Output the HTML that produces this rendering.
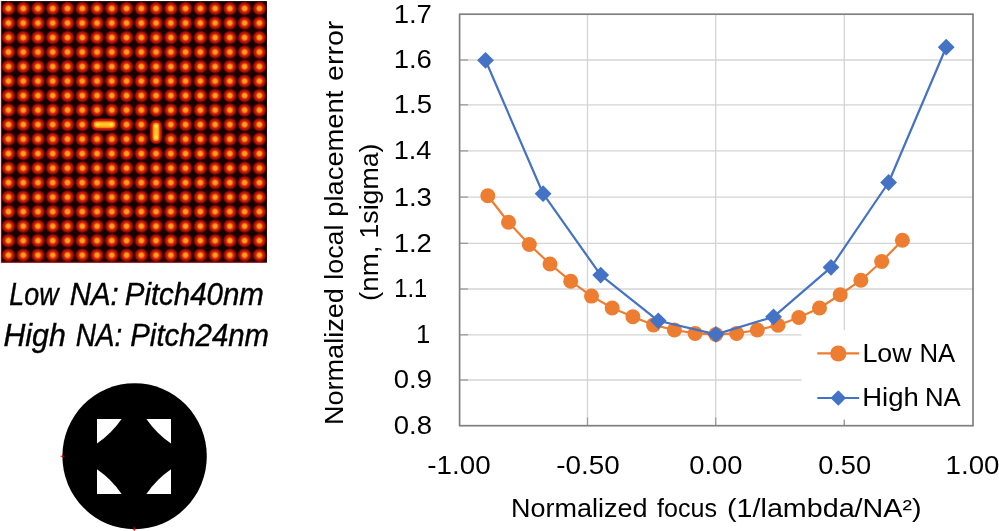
<!DOCTYPE html>
<html lang="en"><head><meta charset="utf-8"><title>Normalized local placement error vs focus</title>
<style>
html,body{margin:0;padding:0;background:#fff;}
body{width:999px;height:531px;overflow:hidden;}
svg{display:block;}
text{font-family:"Liberation Sans", Arial, sans-serif;fill:#000;}
.ax{font-size:25.6px;}
.it{font-style:italic;font-size:32px;stroke:#000;stroke-width:0.4px;}
</style></head><body>
<svg width="999" height="531" viewBox="0 0 999 531">
<defs>
<radialGradient id="dot" cx="50%" cy="50%" r="50%">
<stop offset="0" stop-color="#ffa81e"/>
<stop offset="0.24" stop-color="#ff9c1a"/>
<stop offset="0.35" stop-color="#f8780f"/>
<stop offset="0.45" stop-color="#d8300c"/>
<stop offset="0.54" stop-color="#c81c0a"/>
<stop offset="0.72" stop-color="#ae1208"/>
<stop offset="0.84" stop-color="#6a0603"/>
<stop offset="0.94" stop-color="#4a0302" stop-opacity="0.85"/>
<stop offset="1" stop-color="#200000" stop-opacity="0"/>
</radialGradient>
<pattern id="cell" x="1.10" y="1.25" width="14.76" height="14.51" patternUnits="userSpaceOnUse">
<rect width="14.76" height="14.51" fill="#160000"/>
<ellipse cx="7.38" cy="7.25" rx="7.45" ry="7.35" fill="url(#dot)"/>
</pattern>
<filter id="soft" filterUnits="userSpaceOnUse" x="0" y="0" width="280" height="280"><feGaussianBlur stdDeviation="0.65"/></filter>
</defs>
<g id="heatmap">
<rect x="1.10" y="1.25" width="265.68" height="261.18" fill="#160000"/>
<rect x="1.10" y="1.25" width="265.68" height="261.18" fill="url(#cell)"/>
<rect x="89.66" y="117.33" width="29.52" height="14.51" fill="#160000"/>
<g filter="url(#soft)" stroke-linecap="round" fill="none">
<line x1="97.04" y1="124.58" x2="111.80" y2="124.58" stroke="#5a0402" stroke-width="13.0"/>
<line x1="97.04" y1="124.58" x2="111.80" y2="124.58" stroke="#a80e07" stroke-width="11.8"/>
<line x1="97.04" y1="124.58" x2="111.80" y2="124.58" stroke="#c41809" stroke-width="10.4"/>
<line x1="97.04" y1="124.58" x2="111.80" y2="124.58" stroke="#dc300c" stroke-width="8.2"/>
<line x1="97.04" y1="124.58" x2="111.80" y2="124.58" stroke="#f8780f" stroke-width="6.6"/>
<line x1="97.04" y1="124.58" x2="111.80" y2="124.58" stroke="#ffa41c" stroke-width="5.2"/>
<line x1="97.04" y1="124.58" x2="111.80" y2="124.58" stroke="#ffc826" stroke-width="3.4"/>
<circle cx="97.64" cy="124.58" r="1.9" fill="#ffe030"/><circle cx="111.20" cy="124.58" r="1.9" fill="#ffe030"/>
</g>
<rect x="148.70" y="117.33" width="14.76" height="29.02" fill="#160000"/>
<g filter="url(#soft)" stroke-linecap="round" fill="none">
<line x1="156.08" y1="126.00" x2="156.08" y2="137.80" stroke="#5a0402" stroke-width="13.0"/>
<line x1="156.08" y1="126.00" x2="156.08" y2="137.80" stroke="#a80e07" stroke-width="11.8"/>
<line x1="156.08" y1="126.00" x2="156.08" y2="137.80" stroke="#c41809" stroke-width="10.4"/>
<line x1="156.08" y1="126.00" x2="156.08" y2="137.80" stroke="#dc300c" stroke-width="8.2"/>
<line x1="156.08" y1="126.00" x2="156.08" y2="137.80" stroke="#f8780f" stroke-width="6.6"/>
<line x1="156.08" y1="126.00" x2="156.08" y2="137.80" stroke="#ffa41c" stroke-width="5.2"/>
<line x1="156.08" y1="126.00" x2="156.08" y2="137.80" stroke="#ffc826" stroke-width="3.4"/>
<circle cx="156.08" cy="126.60" r="1.9" fill="#ffe030"/><circle cx="156.08" cy="137.20" r="1.9" fill="#ffe030"/>
</g>
<rect x="0.80" y="1.25" width="1.1" height="261.18" fill="#c01008" opacity="0.8"/>
<rect x="1.10" y="261.63" width="265.68" height="1.1" fill="#c01008" opacity="0.8"/>
</g>
<g id="caption" class="it">
<text x="9.34" y="305.00" textLength="49.20" lengthAdjust="spacingAndGlyphs">Low</text>
<text x="69.72" y="305.00" textLength="49.02" lengthAdjust="spacingAndGlyphs">NA:</text>
<text x="124.75" y="305.00" textLength="139.16" lengthAdjust="spacingAndGlyphs">Pitch40nm</text>
<text x="3.42" y="345.90" textLength="62.37" lengthAdjust="spacingAndGlyphs">High</text>
<text x="75.64" y="345.90" textLength="46.61" lengthAdjust="spacingAndGlyphs">NA:</text>
<text x="130.27" y="345.90" textLength="138.77" lengthAdjust="spacingAndGlyphs">Pitch24nm</text>
</g>
<g id="pupil">
<ellipse cx="134.6" cy="456.2" rx="72.2" ry="73.0" fill="#000"/>
<path d="M97.00 419.00 L121.60 419.00 Q111.54 433.54 97.00 443.60 Z" fill="#fff"/>
<path d="M171.00 419.00 L146.40 419.00 Q156.46 433.54 171.00 443.60 Z" fill="#fff"/>
<path d="M97.00 493.90 L121.60 493.90 Q111.54 479.36 97.00 469.30 Z" fill="#fff"/>
<path d="M171.00 493.90 L146.40 493.90 Q156.46 479.36 171.00 469.30 Z" fill="#fff"/>
<path d="M60.5 456.3H64.5M62.6 454.8V457.8M134.3 527V531M133 529.2H135.6" stroke="#e00000" stroke-width="0.9" fill="none"/>
</g>
<g id="chart">
<g stroke="#d4d4d4" stroke-width="1.3" fill="none">
<line x1="459.60" y1="380.00" x2="973.00" y2="380.00"/>
<line x1="459.60" y1="334.80" x2="973.00" y2="334.80"/>
<line x1="459.60" y1="289.00" x2="973.00" y2="289.00"/>
<line x1="459.60" y1="243.30" x2="973.00" y2="243.30"/>
<line x1="459.60" y1="197.10" x2="973.00" y2="197.10"/>
<line x1="459.60" y1="150.90" x2="973.00" y2="150.90"/>
<line x1="459.60" y1="104.80" x2="973.00" y2="104.80"/>
<line x1="459.60" y1="60.00" x2="973.00" y2="60.00"/>
<line x1="587.50" y1="14.20" x2="587.50" y2="425.70"/>
<line x1="715.70" y1="14.20" x2="715.70" y2="425.70"/>
<line x1="844.30" y1="14.20" x2="844.30" y2="425.70"/>
</g>
<g stroke="#8c8c8c" stroke-width="1.3" opacity="0.8">
<line x1="459.60" y1="380.00" x2="468.10" y2="380.00"/>
<line x1="459.60" y1="334.80" x2="468.10" y2="334.80"/>
<line x1="459.60" y1="289.00" x2="468.10" y2="289.00"/>
<line x1="459.60" y1="243.30" x2="468.10" y2="243.30"/>
<line x1="459.60" y1="197.10" x2="468.10" y2="197.10"/>
<line x1="459.60" y1="150.90" x2="468.10" y2="150.90"/>
<line x1="459.60" y1="104.80" x2="468.10" y2="104.80"/>
<line x1="459.60" y1="60.00" x2="468.10" y2="60.00"/>
<line x1="587.50" y1="417.50" x2="587.50" y2="425.70"/>
<line x1="715.70" y1="417.50" x2="715.70" y2="425.70"/>
<line x1="844.30" y1="417.50" x2="844.30" y2="425.70"/>
</g>
<rect x="801.5" y="330.0" width="171.50" height="89.6" fill="#fff"/>
<rect x="459.60" y="14.20" width="513.40" height="411.50" fill="none" stroke="#808080" stroke-width="1.7"/>
<polyline fill="none" stroke="#ed7d31" stroke-width="2.2" stroke-linejoin="round" points="487.8,195.8 508.5,222.2 529.3,244.5 550.0,264.0 570.7,281.2 591.5,296.1 612.2,308.0 632.9,316.8 653.6,324.9 674.4,330.0 695.1,333.4 715.8,334.4 736.6,333.4 757.3,330.0 778.0,325.3 798.8,317.5 819.5,308.0 840.2,294.7 860.9,280.2 881.7,261.5 902.4,240.2"/>
<g fill="#ed7d31">
<circle cx="487.8" cy="195.8" r="7.5"/>
<circle cx="508.5" cy="222.2" r="7.5"/>
<circle cx="529.3" cy="244.5" r="7.5"/>
<circle cx="550.0" cy="264.0" r="7.5"/>
<circle cx="570.7" cy="281.2" r="7.5"/>
<circle cx="591.5" cy="296.1" r="7.5"/>
<circle cx="612.2" cy="308.0" r="7.5"/>
<circle cx="632.9" cy="316.8" r="7.5"/>
<circle cx="653.6" cy="324.9" r="7.5"/>
<circle cx="674.4" cy="330.0" r="7.5"/>
<circle cx="695.1" cy="333.4" r="7.5"/>
<circle cx="715.8" cy="334.4" r="7.5"/>
<circle cx="736.6" cy="333.4" r="7.5"/>
<circle cx="757.3" cy="330.0" r="7.5"/>
<circle cx="778.0" cy="325.3" r="7.5"/>
<circle cx="798.8" cy="317.5" r="7.5"/>
<circle cx="819.5" cy="308.0" r="7.5"/>
<circle cx="840.2" cy="294.7" r="7.5"/>
<circle cx="860.9" cy="280.2" r="7.5"/>
<circle cx="881.7" cy="261.5" r="7.5"/>
<circle cx="902.4" cy="240.2" r="7.5"/>
</g>
<polyline fill="none" stroke="#4472c4" stroke-width="2.2" stroke-linejoin="round" points="485.5,60.3 543.1,193.7 600.7,275.1 658.3,320.8 715.9,334.4 773.5,316.8 831.0,267.3 888.6,182.5 946.2,47.2"/>
<g fill="#4472c4">
<path d="M485.5 51.9L493.9 60.3L485.5 68.7L477.1 60.3Z"/>
<path d="M543.1 185.3L551.5 193.7L543.1 202.1L534.7 193.7Z"/>
<path d="M600.7 266.7L609.1 275.1L600.7 283.5L592.3 275.1Z"/>
<path d="M658.3 312.4L666.7 320.8L658.3 329.2L649.9 320.8Z"/>
<path d="M715.9 326.0L724.3 334.4L715.9 342.8L707.5 334.4Z"/>
<path d="M773.5 308.4L781.9 316.8L773.5 325.2L765.1 316.8Z"/>
<path d="M831.0 258.9L839.4 267.3L831.0 275.7L822.6 267.3Z"/>
<path d="M888.6 174.1L897.0 182.5L888.6 190.9L880.2 182.5Z"/>
<path d="M946.2 38.8L954.6 47.2L946.2 55.6L937.8 47.2Z"/>
</g>
<line x1="817.3" y1="353.4" x2="859.1" y2="353.4" stroke="#ed7d31" stroke-width="2.2"/>
<circle cx="838.3" cy="353.5" r="8.1" fill="#ed7d31"/>
<line x1="817.3" y1="398" x2="859.1" y2="398" stroke="#4472c4" stroke-width="2.2"/>
<path d="M838.3 390.2L846.1 398L838.3 405.8L830.5 398Z" fill="#4472c4"/>
<g class="ax">
<text x="862.40" y="362.30" textLength="49.22" lengthAdjust="spacingAndGlyphs">Low</text>
<text x="919.42" y="362.30" textLength="35.79" lengthAdjust="spacingAndGlyphs">NA</text>
<text x="862.25" y="406.20" textLength="56.54" lengthAdjust="spacingAndGlyphs">High</text>
<text x="924.94" y="406.20" textLength="35.72" lengthAdjust="spacingAndGlyphs">NA</text>
<text x="393.78" y="434.10" textLength="38.24" lengthAdjust="spacingAndGlyphs">0.8</text>
<text x="393.80" y="388.40" textLength="38.12" lengthAdjust="spacingAndGlyphs">0.9</text>
<text x="415.9" y="343.20">1</text>
<text x="394.24" y="297.40" textLength="32.97" lengthAdjust="spacingAndGlyphs">1.1</text>
<text x="393.65" y="251.70" textLength="38.31" lengthAdjust="spacingAndGlyphs">1.2</text>
<text x="393.66" y="205.50" textLength="38.25" lengthAdjust="spacingAndGlyphs">1.3</text>
<text x="393.73" y="159.30" textLength="37.68" lengthAdjust="spacingAndGlyphs">1.4</text>
<text x="393.66" y="113.20" textLength="38.34" lengthAdjust="spacingAndGlyphs">1.5</text>
<text x="393.66" y="68.40" textLength="38.20" lengthAdjust="spacingAndGlyphs">1.6</text>
<text x="393.65" y="22.60" textLength="38.31" lengthAdjust="spacingAndGlyphs">1.7</text>
<text x="427.36" y="474.40" textLength="63.30" lengthAdjust="spacingAndGlyphs">-1.00</text>
<text x="556.22" y="474.40" textLength="63.41" lengthAdjust="spacingAndGlyphs">-0.50</text>
<text x="689.36" y="474.40" textLength="53.14" lengthAdjust="spacingAndGlyphs">0.00</text>
<text x="818.16" y="474.40" textLength="53.03" lengthAdjust="spacingAndGlyphs">0.50</text>
<text x="945.64" y="474.40" textLength="53.84" lengthAdjust="spacingAndGlyphs">1.00</text>
<text x="511.01" y="517.00" textLength="136.39" lengthAdjust="spacingAndGlyphs">Normalized</text>
<text x="657.07" y="517.00" textLength="60.00" lengthAdjust="spacingAndGlyphs">focus</text>
<text x="727.03" y="517.00" textLength="194.56" lengthAdjust="spacingAndGlyphs">(1/lambda/NA²)</text>
<text transform="translate(342.60 425.09) rotate(-90)" textLength="136.99" lengthAdjust="spacingAndGlyphs">Normalized</text>
<text transform="translate(342.60 279.70) rotate(-90)" textLength="55.04" lengthAdjust="spacingAndGlyphs">local</text>
<text transform="translate(342.60 216.65) rotate(-90)" textLength="125.94" lengthAdjust="spacingAndGlyphs">placement</text>
<text transform="translate(342.60 80.97) rotate(-90)" textLength="60.31" lengthAdjust="spacingAndGlyphs">error</text>
<text transform="translate(378.30 300.94) rotate(-90)" textLength="55.40" lengthAdjust="spacingAndGlyphs">(nm,</text>
<text transform="translate(378.30 238.55) rotate(-90)" textLength="94.96" lengthAdjust="spacingAndGlyphs">1sigma)</text>
</g>
</g>
</svg>
</body></html>
